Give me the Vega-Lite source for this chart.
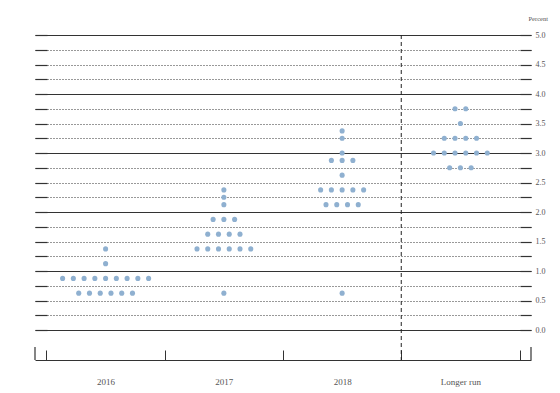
{
  "$schema": "https://vega.github.io/schema/vega-lite/v6.json",
  "width": 496,
  "height": 325,
  "autosize": {"type": "none"},
  "padding": {"left": 35, "top": 35, "right": 29, "bottom": 33},
  "config": {
    "view": {"stroke": null},
    "axis": {"labelFont": "Liberation Serif", "titleFont": "Liberation Serif", "labelColor": "#555", "titleColor": "#555"}
  },
  "datasets": {
    "dots": [
      {"period": "2016", "rate": 1.375},
      {"period": "2016", "rate": 1.125},
      {"period": "2016", "rate": 0.875}, {"period": "2016", "rate": 0.875}, {"period": "2016", "rate": 0.875},
      {"period": "2016", "rate": 0.875}, {"period": "2016", "rate": 0.875}, {"period": "2016", "rate": 0.875},
      {"period": "2016", "rate": 0.875}, {"period": "2016", "rate": 0.875}, {"period": "2016", "rate": 0.875},
      {"period": "2016", "rate": 0.625}, {"period": "2016", "rate": 0.625}, {"period": "2016", "rate": 0.625},
      {"period": "2016", "rate": 0.625}, {"period": "2016", "rate": 0.625}, {"period": "2016", "rate": 0.625},
      {"period": "2017", "rate": 2.375},
      {"period": "2017", "rate": 2.25},
      {"period": "2017", "rate": 2.125},
      {"period": "2017", "rate": 1.875}, {"period": "2017", "rate": 1.875}, {"period": "2017", "rate": 1.875},
      {"period": "2017", "rate": 1.625}, {"period": "2017", "rate": 1.625}, {"period": "2017", "rate": 1.625}, {"period": "2017", "rate": 1.625},
      {"period": "2017", "rate": 1.375}, {"period": "2017", "rate": 1.375}, {"period": "2017", "rate": 1.375},
      {"period": "2017", "rate": 1.375}, {"period": "2017", "rate": 1.375}, {"period": "2017", "rate": 1.375},
      {"period": "2017", "rate": 0.625},
      {"period": "2018", "rate": 3.375},
      {"period": "2018", "rate": 3.25},
      {"period": "2018", "rate": 3.0},
      {"period": "2018", "rate": 2.875}, {"period": "2018", "rate": 2.875}, {"period": "2018", "rate": 2.875},
      {"period": "2018", "rate": 2.625},
      {"period": "2018", "rate": 2.375}, {"period": "2018", "rate": 2.375}, {"period": "2018", "rate": 2.375},
      {"period": "2018", "rate": 2.375}, {"period": "2018", "rate": 2.375},
      {"period": "2018", "rate": 2.125}, {"period": "2018", "rate": 2.125}, {"period": "2018", "rate": 2.125}, {"period": "2018", "rate": 2.125},
      {"period": "2018", "rate": 0.625},
      {"period": "Longer run", "rate": 3.75}, {"period": "Longer run", "rate": 3.75},
      {"period": "Longer run", "rate": 3.5},
      {"period": "Longer run", "rate": 3.25}, {"period": "Longer run", "rate": 3.25}, {"period": "Longer run", "rate": 3.25}, {"period": "Longer run", "rate": 3.25},
      {"period": "Longer run", "rate": 3.0}, {"period": "Longer run", "rate": 3.0}, {"period": "Longer run", "rate": 3.0},
      {"period": "Longer run", "rate": 3.0}, {"period": "Longer run", "rate": 3.0}, {"period": "Longer run", "rate": 3.0},
      {"period": "Longer run", "rate": 2.75}, {"period": "Longer run", "rate": 2.75}, {"period": "Longer run", "rate": 2.75}
    ],
    "edges": [{"edge": "start"}, {"edge": "end"}]
  },
  "layer": [
    {
      "layer": [
        {
          "data": {"name": "dots"},
          "transform": [
            {"window": [{"op": "count", "as": "one"}], "frame": [0, 0]},
            {"stack": "one", "groupby": ["period", "rate"], "offset": "center", "as": ["s0", "s1"]}
          ],
          "mark": {"type": "circle", "size": 26, "color": "#8fb0d0", "opacity": 1},
          "encoding": {
            "x": {
              "field": "period", "type": "nominal",
              "scale": {"domain": ["2016", "2017", "2018", "Longer run"], "paddingInner": 0, "paddingOuter": 0.097},
              "axis": {
                "orient": "bottom", "title": null, "tickBand": "extent", "tickSize": -10,
                "tickColor": "#333", "domainColor": "#333", "labelAngle": 0, "labelFontSize": 9,
                "labelPadding": 27, "grid": false
              }
            },
            "xOffset": {"field": "s0", "type": "quantitative", "scale": {"domain": [-1.5, 9.5]}},
            "y": {
              "field": "rate", "type": "quantitative",
              "scale": {"domain": [-0.508, 5], "nice": false, "zero": false},
              "axis": {
                "orient": "left", "title": null, "values": [0, 0.25, 0.5, 0.75, 1, 1.25, 1.5, 1.75, 2, 2.25, 2.5, 2.75, 3, 3.25, 3.5, 3.75, 4, 4.25, 4.5, 4.75, 5],
                "labels": false, "domain": false, "tickSize": -12, "tickColor": "#333", "tickWidth": 1.2,
                "grid": true, "gridColor": "#333",
                "gridDash": {"condition": {"test": "datum.value % 1 === 0", "value": []}, "value": [1, 2]},
                "gridWidth": {"condition": {"test": "datum.value % 1 === 0", "value": 1.2}, "value": 1}
              }
            }
          }
        },
        {
          "data": {"name": "dots"},
          "transform": [
            {"filter": "datum.period === 'Longer run'"},
            {"aggregate": [{"op": "count", "as": "n"}], "groupby": ["period"]}
          ],
          "mark": {"type": "rule", "color": "#222", "strokeDash": [4, 3], "strokeWidth": 1},
          "encoding": {
            "x": {"field": "period", "type": "nominal", "bandPosition": 0},
            "y": {
              "datum": 5, "type": "quantitative",
              "axis": {
                "orient": "right", "values": [0, 0.25, 0.5, 0.75, 1, 1.25, 1.5, 1.75, 2, 2.25, 2.5, 2.75, 3, 3.25, 3.5, 3.75, 4, 4.25, 4.5, 4.75, 5],
                "labelExpr": "datum.value * 2 % 1 === 0 ? format(datum.value, '.1f') : ''",
                "domain": false, "grid": false, "tickSize": -11, "tickColor": "#333", "tickWidth": 1.2,
                "labelFontSize": 8, "labelPadding": 15,
                "title": "Percent", "titleAngle": 0, "titleFontSize": 6.5, "titleFontWeight": "normal",
                "titleX": -3, "titleY": -14, "titleAlign": "left"
              }
            },
            "y2": {"datum": -0.508}
          }
        }
      ],
      "resolve": {"axis": {"y": "independent"}}
    },
    {
      "data": {"name": "edges"},
      "mark": {"type": "rule", "color": "#333", "strokeWidth": 1.2},
      "encoding": {
        "x": {"field": "edge", "type": "nominal", "scale": {"type": "point", "domain": ["start", "end"], "padding": 0}, "axis": null},
        "y": {"datum": -0.508, "type": "quantitative", "axis": null},
        "y2": {"datum": -0.288}
      }
    }
  ],
  "resolve": {"scale": {"x": "independent"}, "axis": {"y": "independent", "x": "independent"}}
}
